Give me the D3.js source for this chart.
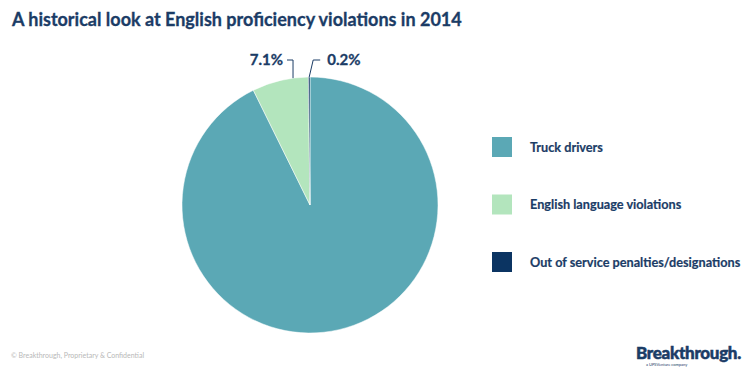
<!DOCTYPE html>
<html><head><meta charset="utf-8">
<script src="https://cdn.jsdelivr.net/npm/d3@7"></script>
<style>body{margin:0;background:#fff;}svg{display:block;font-family:Lato,"Open Sans",sans-serif;}</style>
</head><body>
<svg id="c" width="750" height="368"></svg>
<script>
const categories = ["Truck drivers", "English language violations", "Out of service penalties/designations"];
const values = [92.7, 7.1, 0.2];
const labels = ["", "7.1%", "0.2%"];
const colors = ["#5BA8B5", "#B3E5BD", "#0B3462"];

const svg = d3.select("#c");
const navy = "#1B3C66";

svg.append("text").attr("x", 12).attr("y", 26).attr("fill", navy)
  .attr("font-size", 18).attr("font-weight", 700).attr("stroke", navy).attr("stroke-width", 0.3)
  .text("A historical look at English proficiency violations in 2014");

const cx = 310, cy = 205, r = 128;
const pie = d3.pie().sort(null).value(d => d)(values);
const arc = d3.arc().innerRadius(0).outerRadius(r);
const g = svg.append("g").attr("transform", `translate(${cx},${cy})`);
g.selectAll("path").data(pie).join("path")
  .attr("d", arc).attr("fill", (d, i) => colors[i])
  .attr("stroke", "#fff").attr("stroke-width", 0.5);

const lab = svg.append("g");
// 7.1%
{
  const d = pie[1];
  const a = d.startAngle + 0.73 * (d.endAngle - d.startAngle);
  const px = cx + Math.sin(a) * r, py = cy - Math.cos(a) * r;
  lab.append("path").attr("d", `M${px},${py}L${px},${cy - r - 17}L${px - 6},${cy - r - 17}`)
    .attr("fill", "none").attr("stroke", navy).attr("stroke-width", 1);
  lab.append("text").attr("x", px - 10).attr("y", cy - r - 12).attr("text-anchor", "end")
    .attr("fill", navy).attr("font-size", 15).attr("font-weight", 700).attr("stroke", navy).attr("stroke-width", 0.3).text(labels[1]);
}
// 0.2%
{
  const d = pie[2];
  const a = (d.startAngle + d.endAngle) / 2;
  const px = cx + Math.sin(a) * r, py = cy - Math.cos(a) * r;
  lab.append("path").attr("d", `M${px},${py}L${px + 4},${cy - r - 17}L${px + 11},${cy - r - 17}`)
    .attr("fill", "none").attr("stroke", navy).attr("stroke-width", 1);
  lab.append("text").attr("x", px + 18).attr("y", cy - r - 12)
    .attr("fill", navy).attr("font-size", 15).attr("font-weight", 700).attr("stroke", navy).attr("stroke-width", 0.3).text(labels[2]);
}

// legend
const ly = d3.scalePoint().domain(categories).range([147, 262]);
const lg = svg.append("g");
categories.forEach((c, i) => {
  lg.append("rect").attr("x", 492).attr("y", ly(c) - 10).attr("width", 20).attr("height", 20).attr("fill", colors[i]);
  lg.append("text").attr("x", 530).attr("y", ly(c) + 4.5).attr("fill", navy)
    .attr("font-size", 12.7).attr("font-weight", 700).attr("stroke", navy).attr("stroke-width", 0.2).text(c);
});

svg.append("text").attr("x", 11).attr("y", 358).attr("fill", "#b8b8b8")
  .attr("font-size", 7).text("© Breakthrough, Proprietary & Confidential");

svg.append("text").attr("x", 636).attr("y", 359).attr("fill", "#1B3C66")
  .attr("font-size", 17).attr("font-weight", 900).attr("stroke", "#1B3C66").attr("stroke-width", 0.5)
  .attr("letter-spacing", -0.3).text("Breakthrough.");
svg.append("text").attr("x", 646).attr("y", 366).attr("fill", "#1B3C66")
  .attr("font-size", 4).text("a UPSVenture company");
</script>
</body></html>
